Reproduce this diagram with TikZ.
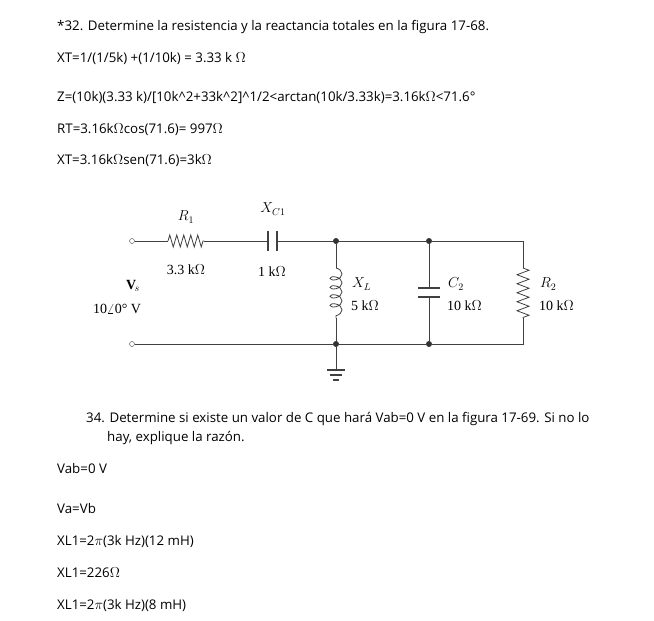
\documentclass[tikz,border=0pt]{standalone}
\usepackage{fontspec}
\setmainfont{Liberation Serif}
\newfontfamily\uifont{Open Sans}
\usetikzlibrary{positioning}
\usetikzlibrary{decorations.pathmorphing}
\tikzset{txt/.style={anchor=west, inner sep=0pt, font={\uifont\fontsize{13.3}{16}\selectfont}},
  lbl/.style={inner sep=0pt, font={\fontsize{14}{16}\selectfont}},
  wire/.style={draw=black!75, line width=0.8pt},
  dot/.style={circle, fill=black!80, inner sep=0pt, minimum size=6pt},
  term/.style={circle, draw=black!75, fill=white, inner sep=0pt, minimum size=5pt}}
\begin{document}
\begin{tikzpicture}[x=1pt, y=-1pt]
  \useasboundingbox (0,0) rectangle (654,621);
  % text above
  \node[txt] (t1) at (57,27) {*32. Determine la resistencia y la reactancia totales en la figura 17-68.};
  \node[txt] (t2) at (57,58) {XT=1/(1/5k) +(1/10k) = 3.33 k $\Omega$};
  \node[txt] (t3) at (57,97) {Z=(10k)(3.33 k)/[10k\^{}2+33k\^{}2]\^{}1/2<arctan(10k/3.33k)=3.16k$\Omega$<71.6°};
  \node[txt] (t4) at (57,129) {RT=3.16k$\Omega$cos(71.6)= 997$\Omega$};
  \node[txt] (t5) at (57,160) {XT=3.16k$\Omega$sen(71.6)=3k$\Omega$};
  % circuit nodes
  \node[term] (a) at (132,241) {};
  \node[term] (b) at (132,344) {};
  \coordinate (r1a) at (168,241);
  \coordinate (r1b) at (204,241);
  \coordinate (c1a) at (268,241);
  \coordinate (c1b) at (277,241);
  \node[dot] (n1) at (336,241) {};
  \node[dot] (n2) at (429,241) {};
  \coordinate (n3) at (523,241);
  \node[dot] (m1) at (336,344) {};
  \node[dot] (m2) at (429,344) {};
  \coordinate (m3) at (523,344);
  \coordinate (g) at (336,370);
  % wires
  \draw[wire] (a) -- (r1a);
  \draw[wire, decorate, decoration={zigzag, segment length=7pt, amplitude=6pt}] (r1a) -- (r1b);
  \draw[wire] (r1b) -- (c1a);
  \draw[wire] (c1b) -- (n1) -- (n2) -- (n3) -- ++(0,27);
  \draw[wire, line width=1.3pt] (c1a) ++(0,-10) -- ++(0,20);
  \draw[wire, line width=1.3pt] (c1b) ++(0,-10) -- ++(0,20);
  \draw[wire] (b) -- (m1) -- (m2) -- (m3) -- ++(0,-26);
  \draw[wire, decorate, decoration={zigzag, segment length=9pt, amplitude=6pt}] (523,268) -- (523,318);
  % inductor
  \draw[wire] (n1) -- (336,268);
  \draw[wire, decorate, decoration={coil, aspect=0.6, segment length=9pt, amplitude=6pt}] (336,268) -- (336,318);
  \draw[wire] (336,318) -- (m1);
  % C2
  \draw[wire] (n2) -- (429,288);
  \draw[wire, line width=1.3pt] (418,288) -- (440,288);
  \draw[wire, line width=1.3pt] (418,297) -- (440,297);
  \draw[wire] (429,297) -- (m2);
  % ground
  \draw[wire] (m1) -- (g);
  \draw[wire, line width=1.2pt] (327,370) -- (345,370);
  \draw[wire, line width=1.2pt] (330,375) -- (342,375);
  \draw[wire, line width=1.2pt] (333,380) -- (339,380);
  % labels
  \node[lbl] (lr1) at (186,217) {$R_1$};
  \node[lbl] (vr1) at (186,270) {3.3 k$\Omega$};
  \node[lbl] (lc1) at (273,209) {$X_{C1}$};
  \node[lbl] (vc1) at (272,272) {1 k$\Omega$};
  \node[lbl] (lvs) at (133,286) {$\mathbf{V}_{\!s}$};
  \node[lbl] (vvs) at (117,309) {10$\angle$0° V};
  \node[lbl, anchor=west] (lxl) at (352,284) {$X_L$};
  \node[lbl, anchor=west] (vxl) at (351,306) {5 k$\Omega$};
  \node[lbl, anchor=west] (lc2) at (448,284) {$C_2$};
  \node[lbl, anchor=west] (vc2) at (447,306) {10 k$\Omega$};
  \node[lbl, anchor=west] (lr2) at (540,284) {$R_2$};
  \node[lbl, anchor=west] (vr2) at (539,306) {10 k$\Omega$};
  % text below
  \node[txt] (t6) at (86,419) {34. Determine si existe un valor de C que hará Vab=0 V en la figura 17-69. Si no lo};
  \node[txt] (t7) at (107,438) {hay, explique la razón.};
  \node[txt] (t8) at (57,469) {Vab=0 V};
  \node[txt] (t9) at (57,509) {Va=Vb};
  \node[txt] (t10) at (57,541) {XL1=2$\pi$(3k Hz)(12 mH)};
  \node[txt] (t11) at (57,573) {XL1=226$\Omega$};
  \node[txt] (t12) at (57,605) {XL1=2$\pi$(3k Hz)(8 mH)};
\end{tikzpicture}
\end{document}
